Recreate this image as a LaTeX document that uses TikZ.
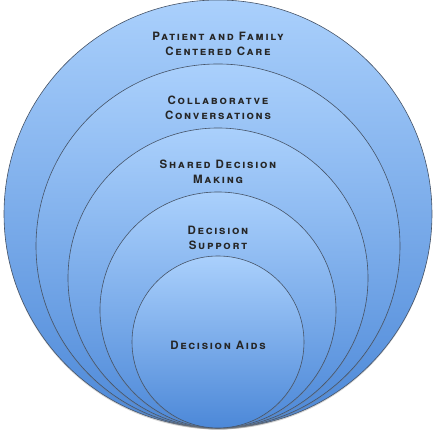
\documentclass[tikz,border=0pt]{standalone}
\usepackage{fontspec}
\setmainfont{TeX Gyre Heros}
\usetikzlibrary{shadows}
\definecolor{ringtop}{RGB}{170,208,252}
\definecolor{ringbottom}{RGB}{76,136,216}
\definecolor{ringline}{RGB}{70,84,104}
\tikzset{
  ring/.style={circle, inner sep=0pt, draw=ringline, line width=0.6pt,
    top color=ringtop, bottom color=ringbottom,
    drop shadow={shadow xshift=0pt, shadow yshift=-1.5pt, opacity=0.35}},
  ringlabel/.style={align=center, text=black!85,
    font=\fontsize{11.5}{15}\selectfont\bfseries\scshape\addfontfeatures{LetterSpace=15}}
}
\begin{document}
\begin{tikzpicture}[x=1pt, y=1pt]
        \useasboundingbox (0, 0) rectangle (437, 435);
        % nested circles, all touching at the bottom
        \node[ring, minimum size=428pt] (care) at (218, 221) {};
        \node[ring, minimum size=364pt] (talk) at (218, 189) {};
        \node[ring, minimum size=300pt] (shared) at (218, 157) {};
        \node[ring, minimum size=236pt] (support) at (218, 125) {};
        \node[ring, minimum size=172pt] (aids) at (218, 93) {};
        % labels
        \node[ringlabel] (carelabel) at (218, 391) {Patient and Family\\Centered Care};
        \node[ringlabel] (talklabel) at (218, 327) {Collaboratve\\Conversations};
        \node[ringlabel] (sharedlabel) at (218, 263) {Shared Decision\\Making};
        \node[ringlabel] (supportlabel) at (218, 197) {Decision\\Support};
        \node[ringlabel] (aidslabel) at (218, 90) {Decision Aids};

    \end{tikzpicture}
\end{document}
